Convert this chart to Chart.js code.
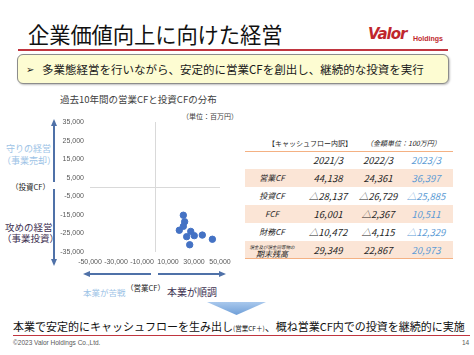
<!DOCTYPE html>
<html lang="ja">
<head>
<meta charset="utf-8">
<script src="https://cdn.jsdelivr.net/npm/chart.js@4/dist/chart.umd.min.js"></script>
<style>
html,body{margin:0;padding:0;background:#fff;}
body{width:474px;height:355px;position:relative;overflow:hidden;font-family:"Noto Sans CJK JP","Noto Sans",sans-serif;color:#1a1a1a;}
.t{position:absolute;white-space:nowrap;line-height:1;}
#chartBox{position:absolute;left:40px;top:100px;width:200px;height:175px;}
table{position:absolute;left:245px;top:152px;border-collapse:collapse;width:208px;font-style:italic;}
td{padding:0;text-align:center;height:18px;line-height:18px;font-size:9.5px;color:#262626;}
tr.hd td{height:17px;line-height:17px;}
tr.pk td{background:#fbe5d6;}
td.lb{font-size:8px;}
td.c3{color:#5b9bd5;}
</style>
</head>
<body>
<!-- header -->
<div class="t" style="left:28px;top:23px;font-size:21.3px;color:#111;letter-spacing:-0.1px;">企業価値向上に向けた経営</div>
<div class="t" style="left:368px;top:27px;font-size:15px;font-weight:bold;font-style:italic;color:#c0272d;font-family:'DejaVu Sans';letter-spacing:-1px;">Valor</div>
<div class="t" style="left:413px;top:35px;font-size:7px;font-weight:bold;color:#c0272d;font-family:'Liberation Sans';">Holdings</div>
<div style="position:absolute;left:18px;top:49px;width:430px;height:2px;background:#c0353f;"></div>
<div style="position:absolute;left:17px;top:54px;width:430px;height:28px;background:#fdfcd2;border:1px solid #8c8c8c;border-radius:6px;box-shadow:1px 1px 2px rgba(0,0,0,0.25);"></div>
<div class="t" style="left:26px;top:64px;font-size:10px;">➢</div>
<div class="t" style="left:42px;top:64px;font-size:11.5px;">多業態経営を行いながら、安定的に営業CFを創出し、継続的な投資を実行</div>

<!-- chart labels -->
<div class="t" style="left:60px;top:95px;font-size:9.5px;color:#404040;">過去10年間の営業CFと投資CFの分布</div>
<div class="t" style="left:182px;top:113px;font-size:7px;color:#404040;">（単位：百万円）</div>
<div class="t" style="left:6px;top:144px;font-size:9px;color:#9dc3e6;">守りの経営</div>
<div class="t" style="left:2px;top:156px;font-size:9px;color:#9dc3e6;">（事業売却）</div>
<div class="t" style="left:11px;top:183px;font-size:7.5px;color:#222;">（投資CF）</div>
<div class="t" style="left:5px;top:223px;font-size:9.5px;color:#403152;">攻めの経営</div>
<div class="t" style="left:2px;top:234px;font-size:9.5px;color:#403152;">（事業投資）</div>
<div class="t" style="left:83px;top:288px;font-size:8.5px;color:#9dc3e6;">本業が苦戦</div>
<div class="t" style="left:126px;top:284px;font-size:7.5px;color:#222;">（営業CF）</div>
<div class="t" style="left:167px;top:287px;font-size:10px;color:#403152;">本業が順調</div>

<svg style="position:absolute;left:0;top:0;" width="474" height="355">
  <defs>
    <linearGradient id="tri" x1="0" y1="0" x2="0" y2="1">
      <stop offset="0" stop-color="#a9c8ec"/><stop offset="1" stop-color="#6f9fd8"/>
    </linearGradient>
  </defs>
  <g stroke="#4f71a8" stroke-width="2" fill="#4f71a8">
    <line x1="54" y1="124" x2="54" y2="182"/>
    <polygon points="54,119 51,126 57,126" stroke="none"/>
    <line x1="54" y1="189" x2="54" y2="261"/>
    <polygon points="54,266 51,259 57,259" stroke="none"/>
    <line x1="88" y1="274" x2="151" y2="274"/>
    <polygon points="83,274 90,271 90,277" stroke="none"/>
    <line x1="158" y1="274" x2="221" y2="274"/>
    <polygon points="226,274 219,271 219,277" stroke="none"/>
  </g>
  <polygon points="207,302 266,302 236.5,315" fill="url(#tri)"/>
</svg>

<div id="chartBox"><canvas id="c"></canvas></div>

<!-- table -->
<div class="t" style="left:268px;top:140px;font-size:7px;color:#262626;">【キャッシュフロー内訳】</div>
<div class="t" style="left:366px;top:140px;font-size:7px;color:#262626;font-style:italic;">（金額単位：100万円）</div>
<div style="position:absolute;left:245px;top:151px;width:208px;height:1px;background:#f4b183;"></div>
<table id="tbl">
  <colgroup><col style="width:54px"><col style="width:58px"><col style="width:42px"><col style="width:54px"></colgroup>
  <tbody id="tb"></tbody>
</table>
<div style="position:absolute;left:245px;top:258px;width:208px;height:1px;background:#f4b183;"></div>

<!-- footer -->
<div class="t" style="left:13px;top:321px;font-size:11px;color:#111;letter-spacing:0px;">本業で安定的にキャッシュフローを生み出し<span style="font-size:6.5px;">(営業CF＋)</span>、概ね営業CF内での投資を継続的に実施</div>
<div style="position:absolute;left:13px;top:335px;width:457px;height:1px;background:#c0353f;"></div>
<div class="t" style="left:13px;top:340px;font-size:6.5px;color:#595959;font-family:'Liberation Sans';">©2023 Valor Holdings Co.,Ltd.</div>
<div class="t" style="left:462px;top:340px;font-size:6.5px;color:#595959;font-family:'Liberation Sans';">14</div>

<script>
// ---- scatter data (百万円) ----
const operatingCF = [21800, 22800, 21800, 18700, 27500, 24361, 30200, 36397, 44138, 26700];
const investingCF = [-15200, -18700, -21200, -23300, -23900, -26729, -26200, -25885, -28137, -31100];
const xTicksRange = [-50000, 50000];
const yTicksRange = [-35000, 35000];

// ---- table data ----
const tableYears = ['2021/3', '2022/3', '2023/3'];
const tableLabels = ['営業CF', '投資CF', 'FCF', '財務CF', '期末残高'];
const tableValues = [
  ['44,138', '24,361', '36,397'],
  ['△28,137', '△26,729', '△25,885'],
  ['16,001', '△2,367', '10,511'],
  ['△10,472', '△4,115', '△12,329'],
  ['29,349', '22,867', '20,973']
];

// build table
const tb = document.getElementById('tb');
let html = '<tr class="hd"><td></td>' + tableYears.map((y,i)=>'<td class="'+(i===2?'c3':'')+'">'+y+'</td>').join('') + '</tr>';
tableLabels.forEach((lab, r) => {
  const cls = (r % 2 === 0) ? 'pk' : '';
  let labHtml = lab;
  if (lab === '期末残高') {
    labHtml = '<div style="line-height:1;font-size:4.5px;padding-top:3px;">現金及び現金同等物の</div><div style="line-height:1;font-size:8px;margin-top:1px;">期末残高</div>';
  }
  html += '<tr class="'+cls+'"><td class="lb">'+labHtml+'</td>' + tableValues[r].map((v,i)=>'<td class="'+(i===2?'c3':'')+'">'+v+'</td>').join('') + '</tr>';
});
tb.innerHTML = html;

// zero axis lines
const zeroLines = {
  id: 'zeroLines',
  beforeDatasetsDraw(chart) {
    const {ctx, chartArea: a, scales: {x, y}} = chart;
    const x0 = x.getPixelForValue(0), y0 = y.getPixelForValue(0);
    ctx.save();
    ctx.strokeStyle = '#d9d9d9';
    ctx.lineWidth = 1;
    ctx.beginPath();
    ctx.moveTo(a.left, Math.round(y0) + 0.5); ctx.lineTo(a.right, Math.round(y0) + 0.5);
    ctx.moveTo(Math.round(x0) + 0.5, a.top); ctx.lineTo(Math.round(x0) + 0.5, a.bottom);
    ctx.stroke();
    ctx.restore();
  }
};

const fmt = v => Number(v).toLocaleString('en-US');
new Chart(document.getElementById('c'), {
  type: 'scatter',
  data: {
    datasets: [{
      data: operatingCF.map((v, i) => ({x: v, y: investingCF[i]})),
      backgroundColor: '#4472c4',
      borderColor: '#4472c4',
      pointRadius: 3.2,
      pointHoverRadius: 3.2
    }]
  },
  options: {
    responsive: true,
    maintainAspectRatio: false,
    devicePixelRatio: 1,
    animation: false,
    layout: {padding: {left: 0, right: 20, top: 22, bottom: 0}},
    plugins: {legend: {display: false}, tooltip: {enabled: false}},
    scales: {
      x: {
        type: 'linear', min: xTicksRange[0], max: xTicksRange[1],
        ticks: {stepSize: 20000, autoSkip: false, maxRotation: 0, padding: 6, color: '#595959', font: {size: 7, family: 'Liberation Sans'}, callback: fmt},
        grid: {display: false, drawTicks: false},
        border: {display: false},
        afterFit: s => { s.height = 23; }
      },
      y: {
        min: yTicksRange[0], max: yTicksRange[1],
        ticks: {stepSize: 10000, autoSkip: false, padding: 6, color: '#595959', font: {size: 7, family: 'Liberation Sans'}, callback: fmt},
        grid: {display: false, drawTicks: false},
        border: {display: false},
        afterFit: s => { s.width = 50; }
      }
    }
  },
  plugins: [zeroLines]
});
</script>
</body>
</html>
